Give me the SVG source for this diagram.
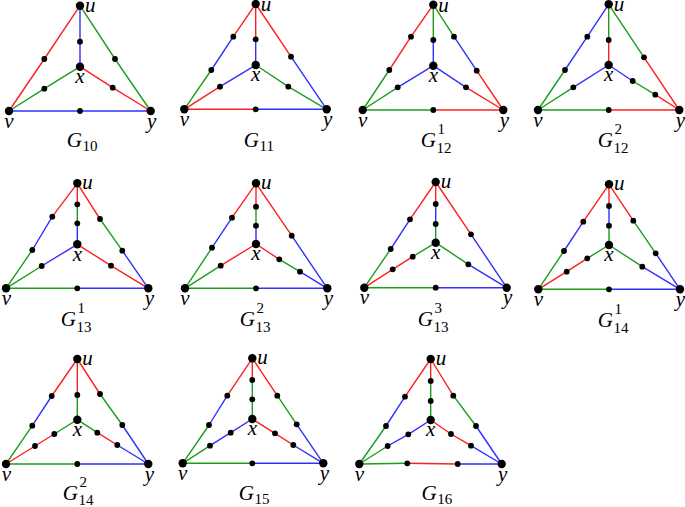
<svg xmlns="http://www.w3.org/2000/svg" width="685" height="507" viewBox="0 0 685 507">
<style>
line{stroke-width:1.4;stroke-linecap:round}
.r{stroke:#ff1f1f}.g{stroke:#1c9e1c}.b{stroke:#3030ff}
.V{fill:#000}.d{fill:#000}
.lab{font-family:"Liberation Serif",serif;font-style:italic;font-size:21px;fill:#000}
.m{text-anchor:middle}
.nm{font-family:"Liberation Serif",serif;font-style:italic;font-size:21px;fill:#000;text-anchor:end}
.sb{font-family:"Liberation Serif",serif;font-size:15px;fill:#000}
</style>
<rect width="685" height="507" fill="#fff"/>

<!-- G10 -->
<g id="G10">
<g id="G10-edges">
<line class="b" x1="80" y1="5.7" x2="80" y2="41.7"/><line class="b" x1="80" y1="41.7" x2="80" y2="66.7"/>
<line class="r" x1="80" y1="5.7" x2="44.3" y2="59"/><line class="r" x1="44.3" y1="59" x2="9" y2="111"/>
<line class="g" x1="80" y1="5.7" x2="115" y2="59"/><line class="g" x1="115" y1="59" x2="150.7" y2="111"/>
<line class="g" x1="9" y1="111" x2="44.3" y2="88.7"/><line class="g" x1="44.3" y1="88.7" x2="80" y2="66.7"/>
<line class="r" x1="80" y1="66.7" x2="112.7" y2="87.7"/><line class="r" x1="112.7" y1="87.7" x2="150.7" y2="111"/>
<line class="b" x1="9" y1="111" x2="80" y2="111"/><line class="b" x1="80" y1="111" x2="150.7" y2="111"/>
</g>
<g id="G10-u"><circle class="V" cx="80" cy="5.7" r="4.2"/><text class="lab" x="85" y="12">u</text></g>
<g id="G10-x"><circle class="V" cx="80" cy="66.7" r="4.2"/><text class="lab m" x="80" y="83">x</text></g>
<g id="G10-v"><circle class="V" cx="9" cy="111" r="4.2"/><text class="lab m" x="9" y="127.5">v</text></g>
<g id="G10-y"><circle class="V" cx="150.7" cy="111" r="4.2"/><text class="lab m" x="151.7" y="127.5">y</text></g>
<g id="G10-a"><circle class="d" cx="80" cy="41.7" r="2.9"/></g>
<g id="G10-b"><circle class="d" cx="44.3" cy="59" r="2.9"/></g>
<g id="G10-c"><circle class="d" cx="115" cy="59" r="2.9"/></g>
<g id="G10-d"><circle class="d" cx="44.3" cy="88.7" r="2.9"/></g>
<g id="G10-e"><circle class="d" cx="112.7" cy="87.7" r="2.9"/></g>
<g id="G10-f"><circle class="d" cx="80" cy="111" r="2.9"/></g>
<text class="nm" x="82" y="147">G</text><text class="sb" x="82.5" y="151">10</text>
</g>

<!-- G11 -->
<g id="G11">
<g id="G11-edges">
<line class="r" x1="255.7" y1="4" x2="255.7" y2="39.3"/><line class="b" x1="255.7" y1="39.3" x2="255.7" y2="65"/>
<line class="r" x1="255.7" y1="4" x2="233.3" y2="36.7"/><line class="b" x1="233.3" y1="36.7" x2="211.3" y2="70"/><line class="g" x1="211.3" y1="70" x2="184.3" y2="109.3"/>
<line class="r" x1="255.7" y1="4" x2="291" y2="56.7"/><line class="b" x1="291" y1="56.7" x2="326.7" y2="109.3"/>
<line class="r" x1="184.3" y1="109.3" x2="220" y2="86.7"/><line class="b" x1="220" y1="86.7" x2="255.7" y2="65"/>
<line class="g" x1="255.7" y1="65" x2="288.3" y2="86.7"/><line class="g" x1="288.3" y1="86.7" x2="326.7" y2="109.3"/>
<line class="r" x1="184.3" y1="109.3" x2="255.7" y2="109.3"/><line class="b" x1="255.7" y1="109.3" x2="326.7" y2="109.3"/>
</g>
<g id="G11-u"><circle class="V" cx="255.7" cy="4" r="4.2"/><text class="lab" x="260.7" y="11">u</text></g>
<g id="G11-x"><circle class="V" cx="255.7" cy="65" r="4.2"/><text class="lab m" x="255.7" y="81.3">x</text></g>
<g id="G11-v"><circle class="V" cx="184.3" cy="109.3" r="4.2"/><text class="lab m" x="184.3" y="125.8">v</text></g>
<g id="G11-y"><circle class="V" cx="326.7" cy="109.3" r="4.2"/><text class="lab m" x="327.7" y="125.8">y</text></g>
<g id="G11-a"><circle class="d" cx="255.7" cy="39.3" r="2.9"/></g>
<g id="G11-b1"><circle class="d" cx="233.3" cy="36.7" r="2.9"/></g>
<g id="G11-b2"><circle class="d" cx="211.3" cy="70" r="2.9"/></g>
<g id="G11-c"><circle class="d" cx="291" cy="56.7" r="2.9"/></g>
<g id="G11-d"><circle class="d" cx="220" cy="86.7" r="2.9"/></g>
<g id="G11-e"><circle class="d" cx="288.3" cy="86.7" r="2.9"/></g>
<g id="G11-f"><circle class="d" cx="255.7" cy="109.3" r="2.9"/></g>
<text class="nm" x="259" y="147">G</text><text class="sb" x="259.5" y="151">11</text>
</g>

<!-- G12^1 -->
<g id="G12a">
<g id="G12a-edges">
<line class="g" x1="433.3" y1="4.7" x2="433.3" y2="40"/><line class="b" x1="433.3" y1="40" x2="433.3" y2="65.7"/>
<line class="r" x1="433.3" y1="4.7" x2="411" y2="36.7"/><line class="r" x1="411" y1="36.7" x2="389.3" y2="70"/><line class="g" x1="389.3" y1="70" x2="362.7" y2="110"/>
<line class="g" x1="433.3" y1="4.7" x2="454" y2="36.7"/><line class="b" x1="454" y1="36.7" x2="476.7" y2="70.7"/><line class="r" x1="476.7" y1="70.7" x2="503.3" y2="110"/>
<line class="g" x1="362.7" y1="110" x2="397.7" y2="87.3"/><line class="b" x1="397.7" y1="87.3" x2="433.3" y2="65.7"/>
<line class="b" x1="433.3" y1="65.7" x2="466" y2="87.3"/><line class="r" x1="466" y1="87.3" x2="503.3" y2="110"/>
<line class="g" x1="362.7" y1="110" x2="433.3" y2="110"/><line class="r" x1="433.3" y1="110" x2="503.3" y2="110"/>
</g>
<g id="G12a-u"><circle class="V" cx="433.3" cy="4.7" r="4.2"/><text class="lab" x="438.3" y="11.5">u</text></g>
<g id="G12a-x"><circle class="V" cx="433.3" cy="65.7" r="4.2"/><text class="lab m" x="433.3" y="82">x</text></g>
<g id="G12a-v"><circle class="V" cx="362.7" cy="110" r="4.2"/><text class="lab m" x="362.7" y="126.5">v</text></g>
<g id="G12a-y"><circle class="V" cx="503.3" cy="110" r="4.2"/><text class="lab m" x="504.3" y="126.5">y</text></g>
<g id="G12a-a"><circle class="d" cx="433.3" cy="40" r="2.9"/></g>
<g id="G12a-b1"><circle class="d" cx="411" cy="36.7" r="2.9"/></g>
<g id="G12a-b2"><circle class="d" cx="389.3" cy="70" r="2.9"/></g>
<g id="G12a-c1"><circle class="d" cx="454" cy="36.7" r="2.9"/></g>
<g id="G12a-c2"><circle class="d" cx="476.7" cy="70.7" r="2.9"/></g>
<g id="G12a-d"><circle class="d" cx="397.7" cy="87.3" r="2.9"/></g>
<g id="G12a-e"><circle class="d" cx="466" cy="87.3" r="2.9"/></g>
<g id="G12a-f"><circle class="d" cx="433.3" cy="110" r="2.9"/></g>
<text class="nm" x="436" y="147">G</text><text class="sb" x="437.5" y="134">1</text><text class="sb" x="436.5" y="153">12</text>
</g>

<!-- G12^2 -->
<g id="G12b">
<g id="G12b-edges">
<line class="g" x1="608.7" y1="4.3" x2="608.7" y2="40"/><line class="r" x1="608.7" y1="40" x2="608.7" y2="65"/>
<line class="b" x1="608.7" y1="4.3" x2="587.3" y2="36.7"/><line class="b" x1="587.3" y1="36.7" x2="565" y2="70"/><line class="g" x1="565" y1="70" x2="538" y2="110"/>
<line class="g" x1="608.7" y1="4.3" x2="644" y2="57.3"/><line class="r" x1="644" y1="57.3" x2="679.3" y2="110"/>
<line class="g" x1="538" y1="110" x2="573.3" y2="87.3"/><line class="b" x1="573.3" y1="87.3" x2="608.7" y2="65"/>
<line class="b" x1="608.7" y1="65" x2="632.7" y2="81"/><line class="g" x1="632.7" y1="81" x2="655.3" y2="94.7"/><line class="r" x1="655.3" y1="94.7" x2="679.3" y2="110"/>
<line class="g" x1="538" y1="110" x2="608.7" y2="110"/><line class="r" x1="608.7" y1="110" x2="679.3" y2="110"/>
</g>
<g id="G12b-u"><circle class="V" cx="608.7" cy="4.3" r="4.2"/><text class="lab" x="613.7" y="11.3">u</text></g>
<g id="G12b-x"><circle class="V" cx="608.7" cy="65" r="4.2"/><text class="lab m" x="608.7" y="81.3">x</text></g>
<g id="G12b-v"><circle class="V" cx="538" cy="110" r="4.2"/><text class="lab m" x="538" y="126.5">v</text></g>
<g id="G12b-y"><circle class="V" cx="679.3" cy="110" r="4.2"/><text class="lab m" x="680.5" y="126.5">y</text></g>
<g id="G12b-a"><circle class="d" cx="608.7" cy="40" r="2.9"/></g>
<g id="G12b-b1"><circle class="d" cx="587.3" cy="36.7" r="2.9"/></g>
<g id="G12b-b2"><circle class="d" cx="565" cy="70" r="2.9"/></g>
<g id="G12b-c"><circle class="d" cx="644" cy="57.3" r="2.9"/></g>
<g id="G12b-d"><circle class="d" cx="573.3" cy="87.3" r="2.9"/></g>
<g id="G12b-e1"><circle class="d" cx="632.7" cy="81" r="2.9"/></g>
<g id="G12b-e2"><circle class="d" cx="655.3" cy="94.7" r="2.9"/></g>
<g id="G12b-f"><circle class="d" cx="608.7" cy="110" r="2.9"/></g>
<text class="nm" x="613" y="147">G</text><text class="sb" x="614.5" y="134">2</text><text class="sb" x="613.5" y="153">12</text>
</g>

<!-- G13^1 -->
<g id="G13a">
<g id="G13a-edges">
<line class="r" x1="77.3" y1="183.3" x2="77.3" y2="204.3"/><line class="g" x1="77.3" y1="204.3" x2="77.3" y2="223.3"/><line class="b" x1="77.3" y1="223.3" x2="77.3" y2="244.3"/>
<line class="r" x1="77.3" y1="183.3" x2="52.3" y2="216.7"/><line class="b" x1="52.3" y1="216.7" x2="32.3" y2="250"/><line class="g" x1="32.3" y1="250" x2="6" y2="288.3"/>
<line class="r" x1="77.3" y1="183.3" x2="100" y2="219"/><line class="g" x1="100" y1="219" x2="122.3" y2="250.7"/><line class="b" x1="122.3" y1="250.7" x2="148.3" y2="288.3"/>
<line class="g" x1="6" y1="288.3" x2="41.7" y2="266"/><line class="b" x1="41.7" y1="266" x2="77.3" y2="244.3"/>
<line class="r" x1="77.3" y1="244.3" x2="111" y2="265.7"/><line class="r" x1="111" y1="265.7" x2="148.3" y2="288.3"/>
<line class="g" x1="6" y1="288.3" x2="77.3" y2="288.3"/><line class="b" x1="77.3" y1="288.3" x2="148.3" y2="288.3"/>
</g>
<g id="G13a-u"><circle class="V" cx="77.3" cy="183.3" r="4.2"/><text class="lab" x="82.3" y="189">u</text></g>
<g id="G13a-x"><circle class="V" cx="77.3" cy="244.3" r="4.2"/><text class="lab m" x="77.3" y="260.6">x</text></g>
<g id="G13a-v"><circle class="V" cx="6" cy="288.3" r="4.2"/><text class="lab m" x="6.5" y="304.8">v</text></g>
<g id="G13a-y"><circle class="V" cx="148.3" cy="288.3" r="4.2"/><text class="lab m" x="149.3" y="304.8">y</text></g>
<g id="G13a-a1"><circle class="d" cx="77.3" cy="204.3" r="2.9"/></g>
<g id="G13a-a2"><circle class="d" cx="77.3" cy="223.3" r="2.9"/></g>
<g id="G13a-b1"><circle class="d" cx="52.3" cy="216.7" r="2.9"/></g>
<g id="G13a-b2"><circle class="d" cx="32.3" cy="250" r="2.9"/></g>
<g id="G13a-c1"><circle class="d" cx="100" cy="219" r="2.9"/></g>
<g id="G13a-c2"><circle class="d" cx="122.3" cy="250.7" r="2.9"/></g>
<g id="G13a-d"><circle class="d" cx="41.7" cy="266" r="2.9"/></g>
<g id="G13a-e"><circle class="d" cx="111" cy="265.7" r="2.9"/></g>
<g id="G13a-f"><circle class="d" cx="77.3" cy="288.3" r="2.9"/></g>
<text class="nm" x="76" y="326">G</text><text class="sb" x="77.5" y="313">1</text><text class="sb" x="76.5" y="332">13</text>
</g>

<!-- G13^2 -->
<g id="G13b">
<g id="G13b-edges">
<line class="r" x1="256" y1="183.3" x2="256" y2="206.7"/><line class="g" x1="256" y1="206.7" x2="256" y2="225.7"/><line class="b" x1="256" y1="225.7" x2="256" y2="244"/>
<line class="r" x1="256" y1="183.3" x2="232" y2="217.7"/><line class="b" x1="232" y1="217.7" x2="212" y2="247.7"/><line class="g" x1="212" y1="247.7" x2="185" y2="288.3"/>
<line class="r" x1="256" y1="183.3" x2="291.7" y2="235.7"/><line class="b" x1="291.7" y1="235.7" x2="327.3" y2="288.3"/>
<line class="g" x1="185" y1="288.3" x2="220.7" y2="265.7"/><line class="r" x1="220.7" y1="265.7" x2="256" y2="244"/>
<line class="r" x1="256" y1="244" x2="279.3" y2="259.3"/><line class="g" x1="279.3" y1="259.3" x2="300" y2="271.7"/><line class="b" x1="300" y1="271.7" x2="327.3" y2="288.3"/>
<line class="g" x1="185" y1="288.3" x2="256" y2="288.3"/><line class="b" x1="256" y1="288.3" x2="327.3" y2="288.3"/>
</g>
<g id="G13b-u"><circle class="V" cx="256" cy="183.3" r="4.2"/><text class="lab" x="261" y="189">u</text></g>
<g id="G13b-x"><circle class="V" cx="256" cy="244" r="4.2"/><text class="lab m" x="256" y="260.3">x</text></g>
<g id="G13b-v"><circle class="V" cx="185" cy="288.3" r="4.2"/><text class="lab m" x="185" y="304.8">v</text></g>
<g id="G13b-y"><circle class="V" cx="327.3" cy="288.3" r="4.2"/><text class="lab m" x="328.3" y="304.8">y</text></g>
<g id="G13b-a1"><circle class="d" cx="256" cy="206.7" r="2.9"/></g>
<g id="G13b-a2"><circle class="d" cx="256" cy="225.7" r="2.9"/></g>
<g id="G13b-b1"><circle class="d" cx="232" cy="217.7" r="2.9"/></g>
<g id="G13b-b2"><circle class="d" cx="212" cy="247.7" r="2.9"/></g>
<g id="G13b-c"><circle class="d" cx="291.7" cy="235.7" r="2.9"/></g>
<g id="G13b-d"><circle class="d" cx="220.7" cy="265.7" r="2.9"/></g>
<g id="G13b-e1"><circle class="d" cx="279.3" cy="259.3" r="2.9"/></g>
<g id="G13b-e2"><circle class="d" cx="300" cy="271.7" r="2.9"/></g>
<g id="G13b-f"><circle class="d" cx="256" cy="288.3" r="2.9"/></g>
<text class="nm" x="255" y="326">G</text><text class="sb" x="256.5" y="313">2</text><text class="sb" x="255.5" y="332">13</text>
</g>

<!-- G13^3 -->
<g id="G13c">
<g id="G13c-edges">
<line class="r" x1="435.7" y1="182" x2="435.7" y2="204"/><line class="b" x1="435.7" y1="204" x2="435.7" y2="224"/><line class="g" x1="435.7" y1="224" x2="435.7" y2="242.7"/>
<line class="r" x1="435.7" y1="182" x2="410" y2="219.3"/><line class="b" x1="410" y1="219.3" x2="390.7" y2="249"/><line class="g" x1="390.7" y1="249" x2="364.3" y2="287.7"/>
<line class="r" x1="435.7" y1="182" x2="471" y2="234.3"/><line class="b" x1="471" y1="234.3" x2="506.7" y2="287.7"/>
<line class="r" x1="364.3" y1="287.7" x2="392.7" y2="269.3"/><line class="r" x1="392.7" y1="269.3" x2="412.7" y2="256.7"/><line class="g" x1="412.7" y1="256.7" x2="435.7" y2="242.7"/>
<line class="g" x1="435.7" y1="242.7" x2="468.3" y2="264.3"/><line class="b" x1="468.3" y1="264.3" x2="506.7" y2="287.7"/>
<line class="g" x1="364.3" y1="287.7" x2="435.7" y2="287.7"/><line class="b" x1="435.7" y1="287.7" x2="506.7" y2="287.7"/>
</g>
<g id="G13c-u"><circle class="V" cx="435.7" cy="182" r="4.2"/><text class="lab" x="440.7" y="187.7">u</text></g>
<g id="G13c-x"><circle class="V" cx="435.7" cy="242.7" r="4.2"/><text class="lab m" x="435.7" y="259">x</text></g>
<g id="G13c-v"><circle class="V" cx="364.3" cy="287.7" r="4.2"/><text class="lab m" x="364.3" y="304.2">v</text></g>
<g id="G13c-y"><circle class="V" cx="506.7" cy="287.7" r="4.2"/><text class="lab m" x="507.7" y="304.2">y</text></g>
<g id="G13c-a1"><circle class="d" cx="435.7" cy="204" r="2.9"/></g>
<g id="G13c-a2"><circle class="d" cx="435.7" cy="224" r="2.9"/></g>
<g id="G13c-b1"><circle class="d" cx="410" cy="219.3" r="2.9"/></g>
<g id="G13c-b2"><circle class="d" cx="390.7" cy="249" r="2.9"/></g>
<g id="G13c-c"><circle class="d" cx="471" cy="234.3" r="2.9"/></g>
<g id="G13c-d1"><circle class="d" cx="412.7" cy="256.7" r="2.9"/></g>
<g id="G13c-d2"><circle class="d" cx="392.7" cy="269.3" r="2.9"/></g>
<g id="G13c-e"><circle class="d" cx="468.3" cy="264.3" r="2.9"/></g>
<g id="G13c-f"><circle class="d" cx="435.7" cy="287.7" r="2.9"/></g>
<text class="nm" x="433" y="326">G</text><text class="sb" x="434.5" y="313">3</text><text class="sb" x="433.5" y="332">13</text>
</g>

<!-- G14^1 -->
<g id="G14a">
<g id="G14a-edges">
<line class="r" x1="609" y1="184.3" x2="609" y2="206"/><line class="b" x1="609" y1="206" x2="609" y2="225.7"/><line class="g" x1="609" y1="225.7" x2="609" y2="245"/>
<line class="r" x1="609" y1="184.3" x2="583.3" y2="221.7"/><line class="b" x1="583.3" y1="221.7" x2="564" y2="251"/><line class="g" x1="564" y1="251" x2="538.3" y2="289.3"/>
<line class="r" x1="609" y1="184.3" x2="633.3" y2="220.7"/><line class="g" x1="633.3" y1="220.7" x2="655.7" y2="253.3"/><line class="b" x1="655.7" y1="253.3" x2="680" y2="289.3"/>
<line class="r" x1="538.3" y1="289.3" x2="566.7" y2="271.7"/><line class="r" x1="566.7" y1="271.7" x2="587.3" y2="258.3"/><line class="g" x1="587.3" y1="258.3" x2="609" y2="245"/>
<line class="g" x1="609" y1="245" x2="642.3" y2="266.7"/><line class="b" x1="642.3" y1="266.7" x2="680" y2="289.3"/>
<line class="g" x1="538.3" y1="289.3" x2="609" y2="289.3"/><line class="b" x1="609" y1="289.3" x2="680" y2="289.3"/>
</g>
<g id="G14a-u"><circle class="V" cx="609" cy="184.3" r="4.2"/><text class="lab" x="614" y="190">u</text></g>
<g id="G14a-x"><circle class="V" cx="609" cy="245" r="4.2"/><text class="lab m" x="609" y="261.3">x</text></g>
<g id="G14a-v"><circle class="V" cx="538.3" cy="289.3" r="4.2"/><text class="lab m" x="538.3" y="305.8">v</text></g>
<g id="G14a-y"><circle class="V" cx="680" cy="289.3" r="4.2"/><text class="lab m" x="680.5" y="305.8">y</text></g>
<g id="G14a-a1"><circle class="d" cx="609" cy="206" r="2.9"/></g>
<g id="G14a-a2"><circle class="d" cx="609" cy="225.7" r="2.9"/></g>
<g id="G14a-b1"><circle class="d" cx="583.3" cy="221.7" r="2.9"/></g>
<g id="G14a-b2"><circle class="d" cx="564" cy="251" r="2.9"/></g>
<g id="G14a-c1"><circle class="d" cx="633.3" cy="220.7" r="2.9"/></g>
<g id="G14a-c2"><circle class="d" cx="655.7" cy="253.3" r="2.9"/></g>
<g id="G14a-d1"><circle class="d" cx="587.3" cy="258.3" r="2.9"/></g>
<g id="G14a-d2"><circle class="d" cx="566.7" cy="271.7" r="2.9"/></g>
<g id="G14a-e"><circle class="d" cx="642.3" cy="266.7" r="2.9"/></g>
<g id="G14a-f"><circle class="d" cx="609" cy="289.3" r="2.9"/></g>
<text class="nm" x="613" y="327">G</text><text class="sb" x="614.5" y="314">1</text><text class="sb" x="613.5" y="333">14</text>
</g>

<!-- G14^2 -->
<g id="G14b">
<g id="G14b-edges">
<line class="r" x1="77.3" y1="359" x2="77.3" y2="395"/><line class="g" x1="77.3" y1="395" x2="77.3" y2="419.7"/>
<line class="r" x1="77.3" y1="359" x2="51.7" y2="396"/><line class="b" x1="51.7" y1="396" x2="32.3" y2="425.7"/><line class="g" x1="32.3" y1="425.7" x2="6" y2="464"/>
<line class="r" x1="77.3" y1="359" x2="100" y2="394"/><line class="g" x1="100" y1="394" x2="122.3" y2="425"/><line class="b" x1="122.3" y1="425" x2="148.3" y2="464"/>
<line class="r" x1="6" y1="464" x2="35" y2="446"/><line class="r" x1="35" y1="446" x2="54.3" y2="434"/><line class="g" x1="54.3" y1="434" x2="77.3" y2="419.7"/>
<line class="g" x1="77.3" y1="419.7" x2="97.3" y2="432.7"/><line class="r" x1="97.3" y1="432.7" x2="117.3" y2="445"/><line class="b" x1="117.3" y1="445" x2="148.3" y2="464"/>
<line class="g" x1="6" y1="464" x2="77.3" y2="464"/><line class="b" x1="77.3" y1="464" x2="148.3" y2="464"/>
</g>
<g id="G14b-u"><circle class="V" cx="77.3" cy="359" r="4.2"/><text class="lab" x="82.3" y="364.7">u</text></g>
<g id="G14b-x"><circle class="V" cx="77.3" cy="419.7" r="4.2"/><text class="lab m" x="77.3" y="436">x</text></g>
<g id="G14b-v"><circle class="V" cx="6" cy="464" r="4.2"/><text class="lab m" x="6.5" y="480.5">v</text></g>
<g id="G14b-y"><circle class="V" cx="148.3" cy="464" r="4.2"/><text class="lab m" x="149.3" y="480.5">y</text></g>
<g id="G14b-a"><circle class="d" cx="77.3" cy="395" r="2.9"/></g>
<g id="G14b-b1"><circle class="d" cx="51.7" cy="396" r="2.9"/></g>
<g id="G14b-b2"><circle class="d" cx="32.3" cy="425.7" r="2.9"/></g>
<g id="G14b-c1"><circle class="d" cx="100" cy="394" r="2.9"/></g>
<g id="G14b-c2"><circle class="d" cx="122.3" cy="425" r="2.9"/></g>
<g id="G14b-d1"><circle class="d" cx="54.3" cy="434" r="2.9"/></g>
<g id="G14b-d2"><circle class="d" cx="35" cy="446" r="2.9"/></g>
<g id="G14b-e1"><circle class="d" cx="97.3" cy="432.7" r="2.9"/></g>
<g id="G14b-e2"><circle class="d" cx="117.3" cy="445" r="2.9"/></g>
<g id="G14b-f"><circle class="d" cx="77.3" cy="464" r="2.9"/></g>
<text class="nm" x="78" y="500">G</text><text class="sb" x="79.5" y="487">2</text><text class="sb" x="78.5" y="505">14</text>
</g>

<!-- G15 -->
<g id="G15">
<g id="G15-edges">
<line class="r" x1="252.3" y1="358.3" x2="252.3" y2="380"/><line class="g" x1="252.3" y1="380" x2="252.3" y2="399.3"/><line class="g" x1="252.3" y1="399.3" x2="252.3" y2="419"/>
<line class="r" x1="252.3" y1="358.3" x2="227.3" y2="395.7"/><line class="b" x1="227.3" y1="395.7" x2="209" y2="425"/><line class="g" x1="209" y1="425" x2="182.7" y2="463.3"/>
<line class="r" x1="252.3" y1="358.3" x2="277.3" y2="395.7"/><line class="g" x1="277.3" y1="395.7" x2="296.7" y2="424.3"/><line class="b" x1="296.7" y1="424.3" x2="323.3" y2="463.3"/>
<line class="g" x1="182.7" y1="463.3" x2="210" y2="445.7"/><line class="b" x1="210" y1="445.7" x2="230.7" y2="432.7"/><line class="b" x1="230.7" y1="432.7" x2="252.3" y2="419"/>
<line class="r" x1="252.3" y1="419" x2="275" y2="433.3"/><line class="r" x1="275" y1="433.3" x2="293.3" y2="445"/><line class="b" x1="293.3" y1="445" x2="323.3" y2="463.3"/>
<line class="g" x1="182.7" y1="463.3" x2="252.3" y2="463.3"/><line class="b" x1="252.3" y1="463.3" x2="323.3" y2="463.3"/>
</g>
<g id="G15-u"><circle class="V" cx="252.3" cy="358.3" r="4.2"/><text class="lab" x="257.3" y="364">u</text></g>
<g id="G15-x"><circle class="V" cx="252.3" cy="419" r="4.2"/><text class="lab m" x="252.3" y="435.3">x</text></g>
<g id="G15-v"><circle class="V" cx="182.7" cy="463.3" r="4.2"/><text class="lab m" x="182.7" y="479.8">v</text></g>
<g id="G15-y"><circle class="V" cx="323.3" cy="463.3" r="4.2"/><text class="lab m" x="324.3" y="479.8">y</text></g>
<g id="G15-a1"><circle class="d" cx="252.3" cy="380" r="2.9"/></g>
<g id="G15-a2"><circle class="d" cx="252.3" cy="399.3" r="2.9"/></g>
<g id="G15-b1"><circle class="d" cx="227.3" cy="395.7" r="2.9"/></g>
<g id="G15-b2"><circle class="d" cx="209" cy="425" r="2.9"/></g>
<g id="G15-c1"><circle class="d" cx="277.3" cy="395.7" r="2.9"/></g>
<g id="G15-c2"><circle class="d" cx="296.7" cy="424.3" r="2.9"/></g>
<g id="G15-d1"><circle class="d" cx="230.7" cy="432.7" r="2.9"/></g>
<g id="G15-d2"><circle class="d" cx="210" cy="445.7" r="2.9"/></g>
<g id="G15-e1"><circle class="d" cx="275" cy="433.3" r="2.9"/></g>
<g id="G15-e2"><circle class="d" cx="293.3" cy="445" r="2.9"/></g>
<g id="G15-f"><circle class="d" cx="252.3" cy="463.3" r="2.9"/></g>
<text class="nm" x="254" y="500">G</text><text class="sb" x="254.5" y="504">15</text>
</g>

<!-- G16 -->
<g id="G16">
<g id="G16-edges">
<line class="r" x1="430.7" y1="359" x2="430.7" y2="381"/><line class="g" x1="430.7" y1="381" x2="430.7" y2="401"/><line class="g" x1="430.7" y1="401" x2="430.7" y2="420"/>
<line class="r" x1="430.7" y1="359" x2="405" y2="396.7"/><line class="b" x1="405" y1="396.7" x2="386" y2="426"/><line class="g" x1="386" y1="426" x2="359.3" y2="464"/>
<line class="r" x1="430.7" y1="359" x2="453.3" y2="395.7"/><line class="g" x1="453.3" y1="395.7" x2="476" y2="426"/><line class="b" x1="476" y1="426" x2="501.7" y2="464"/>
<line class="g" x1="359.3" y1="464" x2="387.7" y2="446"/><line class="b" x1="387.7" y1="446" x2="408.3" y2="434.3"/><line class="b" x1="408.3" y1="434.3" x2="430.7" y2="420"/>
<line class="r" x1="430.7" y1="420" x2="451" y2="434"/><line class="r" x1="451" y1="434" x2="471" y2="445.7"/><line class="b" x1="471" y1="445.7" x2="501.7" y2="464"/>
<line class="g" x1="359.3" y1="464" x2="407.3" y2="463.3"/><line class="r" x1="407.3" y1="463.3" x2="457.7" y2="464"/><line class="b" x1="457.7" y1="464" x2="501.7" y2="464"/>
</g>
<g id="G16-u"><circle class="V" cx="430.7" cy="359" r="4.2"/><text class="lab" x="435.7" y="364.7">u</text></g>
<g id="G16-x"><circle class="V" cx="430.7" cy="420" r="4.2"/><text class="lab m" x="430.7" y="436.3">x</text></g>
<g id="G16-v"><circle class="V" cx="359.3" cy="464" r="4.2"/><text class="lab m" x="359.3" y="480.5">v</text></g>
<g id="G16-y"><circle class="V" cx="501.7" cy="464" r="4.2"/><text class="lab m" x="502.7" y="480.5">y</text></g>
<g id="G16-a1"><circle class="d" cx="430.7" cy="381" r="2.9"/></g>
<g id="G16-a2"><circle class="d" cx="430.7" cy="401" r="2.9"/></g>
<g id="G16-b1"><circle class="d" cx="405" cy="396.7" r="2.9"/></g>
<g id="G16-b2"><circle class="d" cx="386" cy="426" r="2.9"/></g>
<g id="G16-c1"><circle class="d" cx="453.3" cy="395.7" r="2.9"/></g>
<g id="G16-c2"><circle class="d" cx="476" cy="426" r="2.9"/></g>
<g id="G16-d1"><circle class="d" cx="408.3" cy="434.3" r="2.9"/></g>
<g id="G16-d2"><circle class="d" cx="387.7" cy="446" r="2.9"/></g>
<g id="G16-e1"><circle class="d" cx="451" cy="434" r="2.9"/></g>
<g id="G16-e2"><circle class="d" cx="471" cy="445.7" r="2.9"/></g>
<g id="G16-f1"><circle class="d" cx="407.3" cy="463.3" r="2.9"/></g>
<g id="G16-f2"><circle class="d" cx="457.7" cy="464" r="2.9"/></g>
<text class="nm" x="436.7" y="500">G</text><text class="sb" x="437.2" y="504">16</text>
</g>
</svg>
